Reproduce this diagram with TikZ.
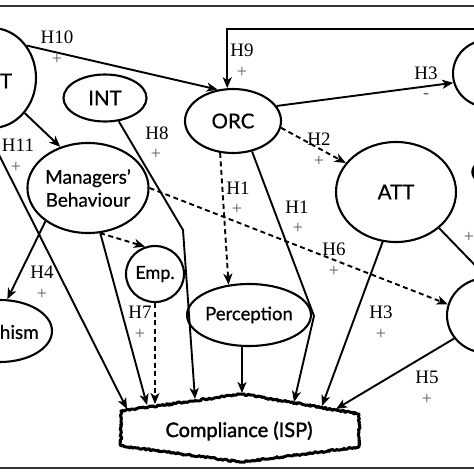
\documentclass[tikz,border=0pt]{standalone}
\usepackage{fontspec}
\setmainfont{Liberation Serif}
\newfontfamily\nodefont{Lato}[FakeBold=0.6]
\newfontfamily\compfont{Lato}[FakeBold=1.6]
\usetikzlibrary{shapes.geometric,arrows.meta,decorations.pathmorphing}
\begin{document}
\begin{tikzpicture}[x=1pt,y=-1pt,
  ell/.style={draw, ellipse, line width=2.1pt, inner sep=0pt, align=center,
    font=\nodefont\fontsize{20.5}{24}\selectfont},
  arr/.style={line width=1.9pt, -{Stealth[length=11pt,width=9pt,inset=3pt]}},
  darr/.style={arr, dash pattern=on 5pt off 3.5pt},
  plain/.style={line width=1.9pt},
  hl/.style={font=\fontsize{19}{21}\selectfont, inner sep=0pt},
  pl/.style={font=\fontsize{18}{20}\selectfont, text=black!65, inner sep=0pt},
  nt/.style={font=\nodefont\fontsize{20}{24}\selectfont, inner sep=0pt, align=center},
]
\pgfmathsetseed{7}
\useasboundingbox (0,0) rectangle (474,474);
\clip (0,0) rectangle (474,474);
\fill[white] (0,0) rectangle (474,474);
% frame lines
\draw[line width=1.6pt, black!80] (-5,6) -- (480,6);
\draw[line width=1.6pt, black!80] (-5,468) -- (480,468);

% nodes
\node[ell, minimum width=88pt, minimum height=100pt] (T) at (-8,78) {};
\node[nt, font=\nodefont\fontsize{20.5}{24}\selectfont] (Ttext) at (6,81) {T};
\node[ell, minimum width=83pt, minimum height=47pt] (INT) at (105,98) {INT};
\node[ell, minimum width=96pt, minimum height=64pt] (ORC) at (233,121) {ORC};
\node[ell, minimum width=112pt, minimum height=90pt, font=\nodefont\fontsize{19}{23}\selectfont] (MB) at (88,188) {Managers’\\Behaviour};
\node[ell, minimum width=120pt, minimum height=100pt] (ATT) at (396,192) {ATT};
\node[ell, minimum width=58pt, minimum height=56pt, font=\nodefont\fontsize{18}{20}\selectfont] (Emp) at (155,274) {Emp.};
\node[ell, minimum width=110pt, minimum height=62pt, font=\nodefont\fontsize{18.5}{20}\selectfont] (Perc) at (249,315) {Perception};
\node[ell, minimum width=104pt, minimum height=62pt] (HI) at (0,331) {};
\node[nt, anchor=east, font=\nodefont\fontsize{19}{20}\selectfont] (HItext) at (39,332) {hism};
\node[ell, minimum width=70pt, minimum height=67pt] (RT) at (488,73.5) {};
\node[ell, minimum width=50pt, minimum height=28pt, line width=3.5pt] (RM) at (498,172) {};
\node[ell, minimum width=80pt, minimum height=75pt] (RB) at (487,315.5) {};

% compliance shape
\draw[line width=3pt, line join=round, decorate, decoration={random steps, segment length=1.4pt, amplitude=0.9pt}]
  (121,411) -- (242,394) -- (359,414) -- (359,447) -- (242,462) -- (121,446) -- cycle;
\node[inner sep=0pt, font=\compfont\fontsize{20}{22}\selectfont] (comp) at (239,431) {Compliance (ISP)};

% arrow end points on compliance
\coordinate (c1) at (127,409);
\coordinate (c2) at (147,405);
\coordinate (c3) at (155,404);
\coordinate (c4) at (195,399);
\coordinate (c5) at (242,393);
\coordinate (c6) at (294,402);
\coordinate (c7) at (322,406);
\coordinate (c8) at (336,409);
\coordinate (k1) at (183,230);
\coordinate (k2) at (314,316);
\coordinate (h9s) at (490,29);
\coordinate (offr) at (500,291);

% connectors
\draw[arr] (T.43) -- (ORC.116);
\draw[arr] (T.-47) -- (MB.124);
\draw[arr] (T.-97) -- (c1);
\draw[arr] (MB.218) -- (HI.77);
\draw[arr] (MB) -- (c2);
\draw[darr] (MB.-75) -- (Emp.110);
\draw[darr] (Emp) -- (c3);
\draw[arr] (INT) -- (k1) -- (c4);
\draw[darr] (ORC.-112) -- (Perc.124);
\draw[arr] (ORC.-58) -- (k2) -- (c6);
\draw[darr] (ORC.-8) -- (ATT.150);
\draw[arr] (ORC.19) -- (RT.195);
\draw[arr] (h9s) -| (ORC.100);
\draw[darr] (MB.0) -- (RB.164);
\draw[arr] (ATT.-105) -- (c7);
\draw[plain] (ATT.-40) -- (offr);
\draw[arr] (RB.215) -- (c8);
\draw[arr] (c5 |- Perc.south) -- (c5);

% labels
\node[hl] (lH10) at (57,37) {H10};  \node[pl] (pH10) at (57,59) {+};
\node[hl] (lH11) at (18,145) {H11}; \node[pl] (pH11) at (16,167) {+};
\node[hl] (lH4) at (42,272) {H4};   \node[pl] (pH4) at (42,294) {+};
\node[hl] (lH7) at (140,312) {H7};  \node[pl] (pH7) at (140,334) {+};
\node[hl] (lH8) at (157,133) {H8};  \node[pl] (pH8) at (156,154) {+};
\node[hl] (lH1a) at (238,188) {H1}; \node[pl] (pH1a) at (237,209) {+};
\node[hl] (lH1b) at (297,207) {H1}; \node[pl] (pH1b) at (298,228) {+};
\node[hl] (lH2) at (319,139) {H2};  \node[pl] (pH2) at (319,161) {+};
\node[hl] (lH3a) at (426,73) {H3};  \node[pl] (pH3a) at (426,96) {-};
\node[hl] (lH9) at (242,50) {H9};   \node[pl] (pH9) at (242,72) {+};
\node[hl] (lH6) at (334,249) {H6};  \node[pl] (pH6) at (334,271) {+};
\node[hl] (lH3b) at (381,312) {H3}; \node[pl] (pH3b) at (381,334) {+};
\node[hl] (lH5) at (427,377) {H5};  \node[pl] (pH5) at (427,399) {+};
\node[pl] (pR) at (469,237) {+};
\end{tikzpicture}
\end{document}
